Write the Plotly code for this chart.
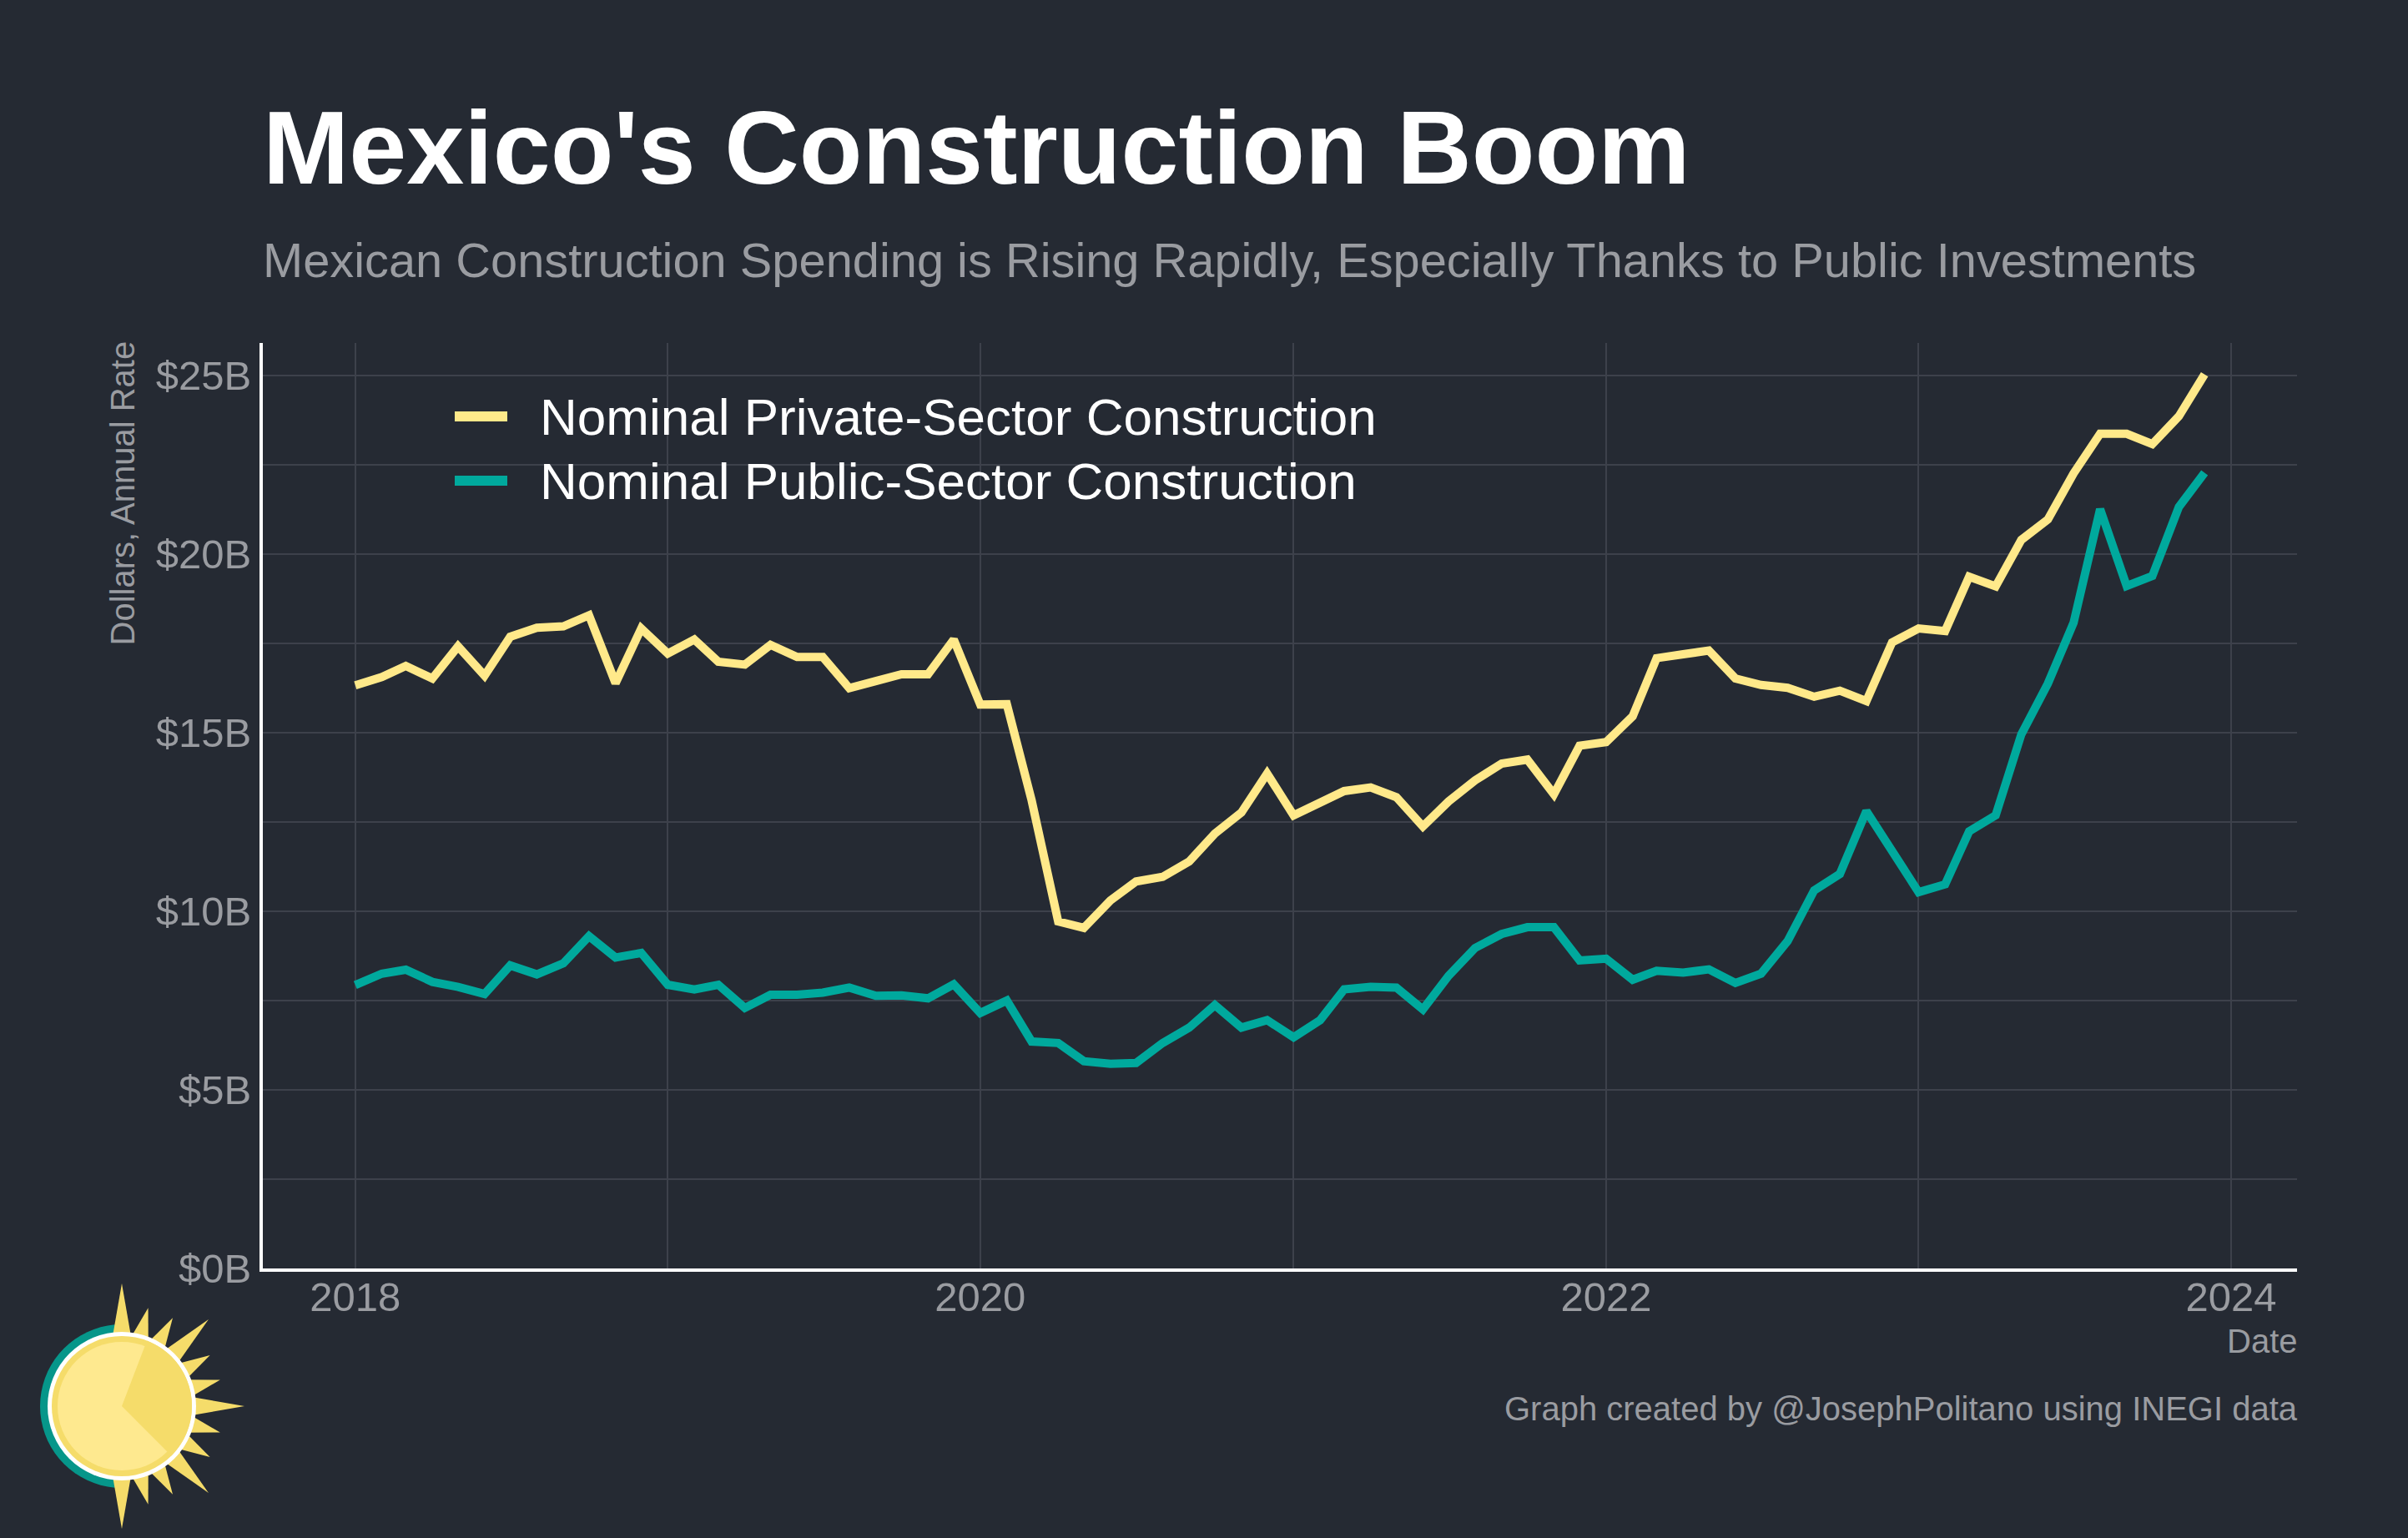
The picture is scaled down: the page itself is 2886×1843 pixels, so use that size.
import math
import plotly.graph_objects as go

# ---------------- data ----------------
months = [f"{y}-{m:02d}-01" for y in range(2018, 2024) for m in range(1, 13)]

private_sector = [
    16.32, 16.55, 16.86, 16.51, 17.41, 16.59, 17.68, 17.93, 17.97, 18.28, 16.38, 17.91,
    17.21, 17.60, 16.98, 16.90, 17.45, 17.11, 17.11, 16.24, 16.44, 16.63, 16.63, 17.60,
    15.78, 15.79, 13.10, 9.71, 9.53, 10.30, 10.83, 10.96, 11.39, 12.17, 12.76, 13.85,
    12.68, 13.03, 13.36, 13.46, 13.19, 12.37, 13.07, 13.66, 14.13, 14.24, 13.27, 14.63,
    14.73, 15.45, 17.08, 17.19, 17.29, 16.51, 16.33, 16.25, 16.00, 16.17, 15.88, 17.52,
    17.91, 17.84, 19.36, 19.09, 20.39, 20.96, 22.25, 23.36, 23.36, 23.07, 23.85, 25.02,
]

public_sector = [
    7.93, 8.25, 8.36, 8.02, 7.88, 7.68, 8.48, 8.23, 8.54, 9.30, 8.70, 8.83,
    7.94, 7.81, 7.94, 7.29, 7.66, 7.66, 7.72, 7.86, 7.63, 7.64, 7.56, 7.95,
    7.15, 7.50, 6.35, 6.31, 5.80, 5.73, 5.75, 6.31, 6.74, 7.37, 6.74, 6.95,
    6.47, 6.95, 7.81, 7.88, 7.86, 7.25, 8.19, 8.97, 9.36, 9.55, 9.55, 8.62,
    8.67, 8.08, 8.33, 8.28, 8.37, 7.99, 8.25, 9.16, 10.58, 11.04, 12.80, 11.72,
    10.53, 10.75, 12.23, 12.68, 14.95, 16.37, 18.07, 21.25, 19.10, 19.38, 21.31, 22.27,
]

series_names = ["Nominal Private-Sector Construction", "Nominal Public-Sector Construction"]
series_colors = ["#FFE98A", "#00A99D"]

title_text = "Mexico's Construction Boom"
subtitle_text = "Mexican Construction Spending is Rising Rapidly, Especially Thanks to Public Investments"
y_title = "Dollars, Annual Rate"
x_title = "Date"
credit_text = "Graph created by @JosephPolitano using INEGI data"

# ---------------- layout geometry ----------------
W, H = 2886, 1843
L, R, T, B = 315, 2753, 411, 1520
PW, PH = R - L, B - T
BG = "#252A33"
GREY = "#9A9CA1"
GRID = "#3D414B"
FONT = "Liberation Sans, Arial, sans-serif"


def px(x):
    return (x - L) / PW


def py(y):
    return (B - y) / PH


fig = go.Figure()
for name, vals, col in zip(series_names, [private_sector, public_sector], series_colors):
    fig.add_trace(go.Scatter(x=months, y=vals, mode="lines", name=name,
                             line=dict(color=col, width=10), showlegend=False))

fig.update_layout(
    width=W, height=H,
    margin=dict(l=L, r=W - R, t=T, b=H - B, autoexpand=False),
    paper_bgcolor=BG, plot_bgcolor=BG,
    font=dict(family=FONT, color=GREY, size=49),
    showlegend=False,
)

fig.update_xaxes(
    type="date", range=["2017-09-15", "2024-03-18"],
    tick0="2018-01-01", dtick="M24", tickformat="%Y",
    showgrid=True, gridcolor=GRID, gridwidth=2,
    minor=dict(dtick="M12", showgrid=True, gridcolor=GRID, gridwidth=2),
    showline=True, linecolor="white", linewidth=4,
    ticks="", zeroline=False, ticklabelstandoff=-12,
    tickfont=dict(size=49, color=GREY),
)
fig.update_yaxes(
    range=[0, 25.9], tick0=0, dtick=5,
    tickprefix="$", ticksuffix="B",
    showgrid=True, gridcolor=GRID, gridwidth=2,
    minor=dict(dtick=2.5, showgrid=True, gridcolor=GRID, gridwidth=2),
    showline=True, linecolor="white", linewidth=4,
    ticks="", zeroline=False,
    tickfont=dict(size=49, color=GREY),
)

ann = []
ann.append(dict(text=f"<b>{title_text}</b>", x=px(313), y=py(177), xref="paper", yref="paper",
                xanchor="left", yanchor="middle", showarrow=False,
                font=dict(size=124, color="white", family=FONT)))
ann.append(dict(text=subtitle_text, x=px(313), y=py(312), xref="paper", yref="paper",
                xanchor="left", yanchor="middle", showarrow=False,
                font=dict(size=57.8, color=GREY, family=FONT)))
ann.append(dict(text=y_title, x=px(146), y=py(407), xref="paper", yref="paper",
                xanchor="center", yanchor="top", textangle=-90, showarrow=False,
                font=dict(size=40, color=GREY, family=FONT)))
ann.append(dict(text=x_title, x=px(2756), y=py(1607), xref="paper", yref="paper",
                xanchor="right", yanchor="middle", showarrow=False,
                font=dict(size=40, color=GREY, family=FONT)))
ann.append(dict(text=credit_text, x=px(2756), y=py(1688), xref="paper", yref="paper",
                xanchor="right", yanchor="middle", showarrow=False,
                font=dict(size=40, color=GREY, family=FONT)))

shapes = []
# ---------------- legend (keys + labels) ----------------
legend_rows_y = [499, 576]
for name, col, ry in zip(series_names, series_colors, legend_rows_y):
    shapes.append(dict(type="line", xref="paper", yref="paper",
                       x0=px(545), x1=px(608), y0=py(ry), y1=py(ry),
                       line=dict(color=col, width=12), layer="above"))
    ann.append(dict(text=name, x=px(645), y=py(ry), xref="paper", yref="paper",
                    xanchor="left", yanchor="middle", showarrow=False,
                    font=dict(size=62, color="white", family=FONT)))
fig.update_layout(annotations=ann)

# ---------------- sun logo (decoration) ----------------
cx, cy = 146, 1685


def circle(r, color, ccx=cx, ccy=cy):
    return dict(type="circle", xref="paper", yref="paper",
                x0=px(ccx - r), x1=px(ccx + r), y0=py(ccy + r), y1=py(ccy - r),
                fillcolor=color, line=dict(width=0), layer="above")


def poly(points, color):
    d = "M " + " L ".join(f"{px(a):.6f},{py(b):.6f}" for a, b in points) + " Z"
    return dict(type="path", xref="paper", yref="paper", path=d,
                fillcolor=color, line=dict(width=0), layer="above")


rt = 98
pts = [(cx + rt * math.cos(math.radians(a)), cy + rt * math.sin(math.radians(a)))
       for a in range(90, 271, 5)]
shapes.append(poly(pts, "#06968A"))

for ang in range(-90, 91, 15):
    long_ray = (ang % 45 == 0)
    length = 147 if long_ray else 122
    a = math.radians(ang)
    ux, uy = math.cos(a), math.sin(a)
    nx, ny = -uy, ux
    base_r, hw = 78, 12
    bx, by = cx + base_r * ux, cy + base_r * uy
    shapes.append(poly([(bx + hw * nx, by + hw * ny), (cx + length * ux, cy + length * uy),
                        (bx - hw * nx, by - hw * ny)], "#F5DC6A"))

shapes.append(circle(89, "white"))
shapes.append(circle(84, "#F5DC6A"))
shapes.append(circle(77, "#FEE98F"))
wedge = [(cx, cy)] + [(cx + 84 * math.cos(math.radians(a)), cy + 84 * math.sin(math.radians(a)))
                      for a in range(-69, 46, 3)]
shapes.append(poly(wedge, "#F5DC6A"))
fig.update_layout(shapes=shapes)

fig.write_html("out.html", config={"displayModeBar": False})
